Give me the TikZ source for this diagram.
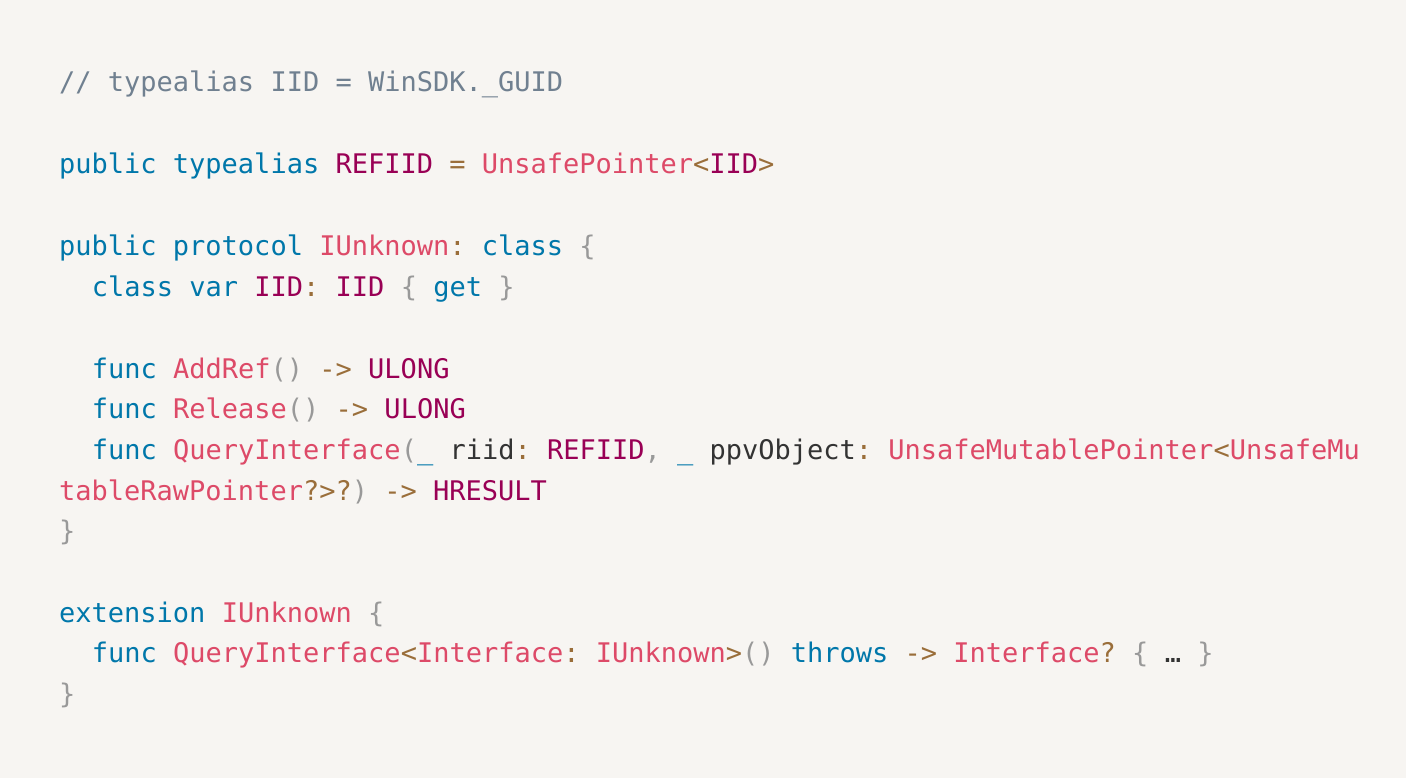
\documentclass[tikz,border=0pt]{standalone}
\usepackage{fontspec}
\setmonofont{DejaVu Sans Mono}
\definecolor{bg}{HTML}{F7F5F2}
\definecolor{cmc}{HTML}{708090}
\definecolor{kwc}{HTML}{0077AA}
\definecolor{tyc}{HTML}{990055}
\definecolor{fnc}{HTML}{DD4A68}
\definecolor{opc}{HTML}{9A6E3A}
\definecolor{puc}{HTML}{999999}
\definecolor{txc}{HTML}{333333}
\newcommand{\Kw}[1]{\textcolor{kwc}{#1}}
\newcommand{\Ty}[1]{\textcolor{tyc}{#1}}
\newcommand{\Fn}[1]{\textcolor{fnc}{#1}}
\newcommand{\Op}[1]{\textcolor{opc}{#1}}
\newcommand{\Pu}[1]{\textcolor{puc}{#1}}
\begin{document}
\begin{tikzpicture}[x=1pt,y=1pt,
  codeline/.style={anchor=base west,inner sep=0pt,font=\fontsize{27}{30}\ttfamily,text=txc}]
\fill[bg] (0,0) rectangle (1406,778);
\useasboundingbox (0,0) rectangle (1406,778);
\def\xa{59}\def\xb{91.7}
\node[codeline,text=cmc] (l1) at (\xa,778-92) {// typealias IID = WinSDK.\_GUID};
\node[codeline] (l2) at (\xa,778-174) {\Kw{public typealias} \Ty{REFIID} \Op{=} \Fn{UnsafePointer}\Op{<}\Ty{IID}\Op{>}};
\node[codeline] (l3) at (\xa,778-256) {\Kw{public protocol} \Fn{IUnknown}\Op{:} \Kw{class} \Pu{\{}};
\node[codeline] (l4) at (\xb,778-297) {\Kw{class var} \Ty{IID}\Op{:} \Ty{IID} \Pu{\{} \Kw{get} \Pu{\}}};
\node[codeline] (l5) at (\xb,778-379) {\Kw{func} \Fn{AddRef}\Pu{()} \Op{->} \Ty{ULONG}};
\node[codeline] (l6) at (\xb,778-419) {\Kw{func} \Fn{Release}\Pu{()} \Op{->} \Ty{ULONG}};
\node[codeline] (l7) at (\xb,778-460) {\Kw{func} \Fn{QueryInterface}\Pu{(}\Kw{\_} riid\Op{:} \Ty{REFIID}\Pu{,} \Kw{\_} ppvObject\Op{:} \Fn{UnsafeMutablePointer}\Op{<}\Fn{UnsafeMu}};
\node[codeline] (l8) at (\xa,778-501) {\Fn{tableRawPointer}\Op{?>?}\Pu{)} \Op{->} \Ty{HRESULT}};
\node[codeline] (l9) at (\xa,778-541) {\Pu{\}}};
\node[codeline] (l10) at (\xa,778-623) {\Kw{extension} \Fn{IUnknown} \Pu{\{}};
\node[codeline] (l11) at (\xb,778-663) {\Kw{func} \Fn{QueryInterface}\Op{<}\Fn{Interface}\Op{:} \Fn{IUnknown}\Op{>}\Pu{()} \Kw{throws} \Op{->} \Fn{Interface}\Op{?} \Pu{\{} … \Pu{\}}};
\node[codeline] (l12) at (\xa,778-704) {\Pu{\}}};
\end{tikzpicture}
\end{document}
